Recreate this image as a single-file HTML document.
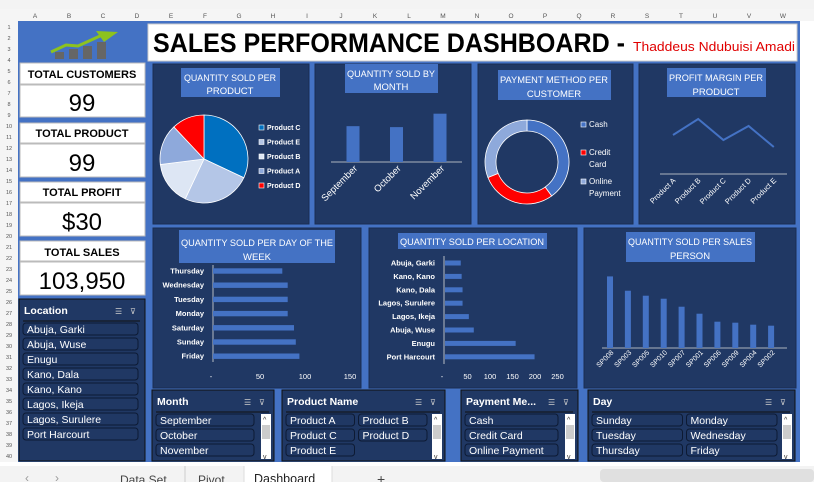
<!DOCTYPE html>
<html><head><meta charset="utf-8"><style>
html,body{margin:0;padding:0;background:#fff;width:814px;height:482px;overflow:hidden}
svg{display:block;font-family:"Liberation Sans",Arial,sans-serif}
</style></head><body>
<svg id="dash" width="814" height="482" viewBox="0 0 814 482" xmlns="http://www.w3.org/2000/svg">
<rect x="0" y="0" width="814" height="9" fill="#f3f3f3"/>
<rect x="0" y="9" width="814" height="12" fill="#f5f5f5"/>
<g id="colHeads" font-size="6.5" fill="#555" text-anchor="middle"></g>
<rect x="0" y="21" width="18" height="441" fill="#f5f5f5"/>
<g id="rowHeads" font-size="5.5" fill="#555" text-anchor="middle"></g>
<rect x="18" y="21" width="782" height="441" fill="#4472C4"/>
<rect x="0" y="462" width="814" height="20" fill="#f3f3f3"/>
<text x="25" y="482" font-size="12" fill="#999">‹</text>
<text x="55" y="482" font-size="12" fill="#999">›</text>
<text x="120" y="484" font-size="12" fill="#444">Data Set</text>
<line x1="185" y1="466" x2="185" y2="482" stroke="#ccc"/>
<text x="198" y="484" font-size="12" fill="#444">Pivot</text>
<rect x="244" y="465" width="88" height="18" fill="#fff" stroke="#ddd"/>
<text x="254" y="483" font-size="12.5" fill="#222">Dashboard</text>
<text x="377" y="484" font-size="14" fill="#444">+</text>
<rect x="600" y="469" width="214" height="13" rx="4" fill="#e0e0e0"/>

<g>
<rect x="55" y="52" width="9" height="7" fill="#666"/><rect x="69" y="49" width="9" height="10" fill="#666"/>
<rect x="83" y="46" width="9" height="13" fill="#666"/><rect x="97" y="42" width="9" height="17" fill="#666"/>
<polyline points="51,52 66,45 78,46 100,36" fill="none" stroke="#8DC21F" stroke-width="3"/>
<polygon points="96,31 118,32 104,42" fill="#8DC21F"/>
</g>
<rect x="148" y="24" width="649" height="37" fill="#fff" stroke="#ccc"/>
<text x="153" y="52" font-size="27" font-weight="bold" fill="#000" textLength="472" lengthAdjust="spacingAndGlyphs">SALES PERFORMANCE DASHBOARD -</text>
<text x="633" y="51" font-size="13" fill="#e00000" textLength="162" lengthAdjust="spacingAndGlyphs">Thaddeus Ndubuisi Amadi</text>

<g font-size="11" font-weight="bold" text-anchor="middle">
<rect x="20" y="63" width="125" height="21" fill="#fff" stroke="#bbb"/>
<text x="82" y="78">TOTAL CUSTOMERS</text>
<rect x="20" y="85" width="125" height="32" fill="#fff" stroke="#bbb"/>
<text x="82" y="111" font-size="24" font-weight="normal">99</text>
<rect x="20" y="123" width="125" height="20" fill="#fff" stroke="#bbb"/>
<text x="82" y="137">TOTAL PRODUCT</text>
<rect x="20" y="144" width="125" height="33" fill="#fff" stroke="#bbb"/>
<text x="82" y="171" font-size="24" font-weight="normal">99</text>
<rect x="20" y="182" width="125" height="20" fill="#fff" stroke="#bbb"/>
<text x="82" y="196">TOTAL PROFIT</text>
<rect x="20" y="203" width="125" height="33" fill="#fff" stroke="#bbb"/>
<text x="82" y="230" font-size="24" font-weight="normal">$30</text>
<rect x="20" y="241" width="125" height="20" fill="#fff" stroke="#bbb"/>
<text x="82" y="256">TOTAL SALES</text>
<rect x="20" y="262" width="125" height="33" fill="#fff" stroke="#bbb"/>
<text x="82" y="289" font-size="24" font-weight="normal">103,950</text>
</g>

<g fill="#203864" stroke="#1a2d52">
<rect x="153" y="64" width="156" height="160"/>
<rect x="315" y="64" width="156" height="160"/>
<rect x="478" y="64" width="155" height="160"/>
<rect x="639" y="64" width="156" height="160"/>
<rect x="153" y="228" width="208" height="160"/>
<rect x="369" y="228" width="208" height="160"/>
<rect x="584" y="228" width="212" height="160"/>
</g>
<g fill="#4472C4">
<rect x="181" y="68" width="99" height="29"/>
<rect x="345" y="64" width="93" height="29"/>
<rect x="498" y="70" width="113" height="30"/>
<rect x="667" y="68" width="99" height="29"/>
<rect x="179" y="230" width="156" height="33"/>
<rect x="398" y="233" width="149" height="16"/>
<rect x="626" y="232" width="129" height="30"/>
</g>
<g fill="#fff" font-size="9.5" text-anchor="middle">
<text x="230" y="81" textLength="92" lengthAdjust="spacingAndGlyphs">QUANTITY SOLD PER</text>
<text x="230" y="94">PRODUCT</text>
<text x="391" y="77" textLength="88" lengthAdjust="spacingAndGlyphs">QUANTITY SOLD BY</text>
<text x="391" y="90">MONTH</text>
<text x="554" y="83" textLength="108" lengthAdjust="spacingAndGlyphs">PAYMENT METHOD PER</text>
<text x="554" y="97">CUSTOMER</text>
<text x="716" y="81" textLength="94" lengthAdjust="spacingAndGlyphs">PROFIT MARGIN PER</text>
<text x="716" y="95">PRODUCT</text>
<text x="257" y="246" textLength="152" lengthAdjust="spacingAndGlyphs">QUANTITY SOLD PER DAY OF THE</text>
<text x="257" y="260">WEEK</text>
<text x="472" y="245" textLength="144" lengthAdjust="spacingAndGlyphs">QUANTITY SOLD PER LOCATION</text>
<text x="690" y="245" textLength="124" lengthAdjust="spacingAndGlyphs">QUANTITY SOLD PER SALES</text>
<text x="690" y="259">PERSON</text>
</g>
<g id="charts"></g>
<g id="slicers"></g>
</svg>
<script>
const pieCats = ["Product C","Product E","Product B","Product A","Product D"];
const pieVals = [32,25,16,15,12];
const pieColors = ["#0070C0","#B4C6E7","#DDE6F4","#8EA9DB","#FF0000"];
const months = ["September","October","November"];
const monthVals = [112,109,151];
const payCats = ["Cash","Credit Card","Online Payment"];
const payVals = [40,29,31];
const payColors = ["#4472C4","#FF0000","#8EA9DB"];
const profitCats = ["Product A","Product B","Product C","Product D","Product E"];
const profitVals = [39,55,34,48,27];
const days = ["Thursday","Wednesday","Tuesday","Monday","Saturday","Sunday","Friday"];
const dayVals = [77,83,83,83,90,92,96];
const dayTicks = ["-","50","100","150"];
const locs = ["Abuja, Garki","Kano, Kano","Kano, Dala","Lagos, Surulere","Lagos, Ikeja","Abuja, Wuse","Enugu","Port Harcourt"];
const locVals = [35,37,39,39,53,64,157,199];
const locTicks = ["-","50","100","150","200","250"];
const spCats = ["SP008","SP003","SP005","SP010","SP007","SP001","SP006","SP009","SP004","SP002"];
const spVals = [215,172,157,148,124,103,79,76,70,67];

const NS="http://www.w3.org/2000/svg";
function mk(tag,attrs,parent){const e=document.createElementNS(NS,tag);for(const k in attrs)e.setAttribute(k,attrs[k]);(parent||document.getElementById('charts')).appendChild(e);return e;}

const letters="ABCDEFGHIJKLMNOPQRSTUVW";
for(let i=0;i<letters.length;i++){const t=mk('text',{x:35+i*34,y:18},document.getElementById('colHeads'));t.textContent=letters[i];}
for(let r=1;r<=40;r++){const t=mk('text',{x:9,y:21+r*11-3},document.getElementById('rowHeads'));t.textContent=r;}

(function(){
 const cx=204,cy=159,r=44,tot=pieVals.reduce((a,b)=>a+b,0);let a=0;
 pieVals.forEach((v,i)=>{const a2=a+v/tot*2*Math.PI;
  const x1=cx+r*Math.sin(a),y1=cy-r*Math.cos(a),x2=cx+r*Math.sin(a2),y2=cy-r*Math.cos(a2);
  const p=mk('path',{d:`M${cx},${cy}L${x1},${y1}A${r},${r} 0 ${a2-a>Math.PI?1:0} 1 ${x2},${y2}Z`,fill:pieColors[i],stroke:"#fff","stroke-width":0.8});
  
  
  a=a2;
  const ly=130+i*14.5;
  const s=mk('rect',{x:259,y:ly-5,width:5,height:5,fill:pieColors[i],stroke:"#fff","stroke-width":0.6});
  
  
  const t=mk('text',{x:267,y:ly,"font-size":7,"font-weight":"bold",fill:"#fff"});t.textContent=pieCats[i];
  
  
 });
})();

(function(){
 const base=162,sc=0.32,x0=353,step=43.5;
 mk('line',{x1:331,y1:base,x2:462,y2:base,stroke:"#ddd","stroke-width":0.8});
 months.forEach((m,i)=>{const x=x0+i*step,h=monthVals[i]*sc;
  const b=mk('rect',{x:x-6.5,y:base-h,width:13,height:h,fill:"#4472C4"});
  
  
  const t=mk('text',{x:x+5,y:169,"font-size":9.5,fill:"#fff","text-anchor":"end",transform:`rotate(-45 ${x+5} 169)`});t.textContent=m;
  
  
 });
})();

(function(){
 const cx=527,cy=162,R=42,r=31,tot=payVals.reduce((a,b)=>a+b,0);let a=0;
 payVals.forEach((v,i)=>{const a2=a+v/tot*2*Math.PI,lg=a2-a>Math.PI?1:0;
  const P=(rad,t)=>[cx+rad*Math.sin(t),cy-rad*Math.cos(t)];
  const [x1,y1]=P(R,a),[x2,y2]=P(R,a2),[x3,y3]=P(r,a2),[x4,y4]=P(r,a);
  const p=mk('path',{d:`M${x1},${y1}A${R},${R} 0 ${lg} 1 ${x2},${y2}L${x3},${y3}A${r},${r} 0 ${lg} 0 ${x4},${y4}Z`,fill:payColors[i],stroke:"#fff","stroke-width":0.8});
  
  
  a=a2;
 });
 const ly=[127,155,184];
 payCats.forEach((c,i)=>{const s=mk('rect',{x:581,y:ly[i]-5,width:5,height:5,fill:payColors[i],stroke:"#fff","stroke-width":0.6});
  
  
  const parts=c.split(' ');
  parts.forEach((w,j)=>{const t=mk('text',{x:589,y:ly[i]+j*12,"font-size":8,fill:"#fff"});t.textContent=w;
   
   });
 });
})();

(function(){
 const base=174,x0=673,step=25.2;
 mk('line',{x1:660,y1:base,x2:787,y2:base,stroke:"#ddd","stroke-width":0.8});
 const pts=profitVals.map((v,i)=>`${x0+i*step},${base-v}`).join(' ');
 const l=mk('polyline',{points:pts,fill:"none",stroke:"#4472C4","stroke-width":2});
 
 
 profitCats.forEach((c,i)=>{const x=x0+i*step+3;
  const t=mk('text',{x:x,y:181,"font-size":7.5,fill:"#fff","text-anchor":"end",transform:`rotate(-45 ${x} 181)`});t.textContent=c;
  
  });
})();

(function(){
 const x0=213,sc=0.9,y0=271,step=14.2;
 mk('line',{x1:x0,y1:265,x2:x0,y2:362,stroke:"#ddd","stroke-width":0.8});
 days.forEach((d,i)=>{const y=y0+i*step;
  const b=mk('rect',{x:x0,y:y-2.7,width:dayVals[i]*sc,height:5.4,fill:"#4472C4"});
  
  
  const t=mk('text',{x:204,y:y+2.5,"font-size":7.5,"font-weight":"bold",fill:"#fff","text-anchor":"end"});t.textContent=d;
  
  });
 dayTicks.forEach((tk,i)=>{const t=mk('text',{x:x0+i*50*sc-(i==0?2:-2),y:379,"font-size":7.5,fill:"#fff","text-anchor":"middle"});t.textContent=tk;
  
  });
})();

(function(){
 const x0=444,sc=0.45,y0=263,step=13.4;
 mk('line',{x1:x0,y1:256,x2:x0,y2:364,stroke:"#ddd","stroke-width":0.8});
 locs.forEach((d,i)=>{const y=y0+i*step;
  const b=mk('rect',{x:x0+1,y:y-2.5,width:locVals[i]*sc,height:5,fill:"#4472C4"});
  
  
  const t=mk('text',{x:435,y:y+2.5,"font-size":7.5,"font-weight":"bold",fill:"#fff","text-anchor":"end"});t.textContent=d;
  
  });
 locTicks.forEach((tk,i)=>{const t=mk('text',{x:x0+i*50*sc-(i==0?2:-1),y:379,"font-size":7.5,fill:"#fff","text-anchor":"middle"});t.textContent=tk;
  
  });
})();

(function(){
 const base=348,sc=0.333,x0=610,step=17.9;
 mk('line',{x1:602,y1:base,x2:787,y2:base,stroke:"#ddd","stroke-width":0.8});
 spCats.forEach((c,i)=>{const x=x0+i*step,h=spVals[i]*sc;
  const b=mk('rect',{x:x-3,y:base-h,width:6,height:h,fill:"#4472C4"});
  
  
  const t=mk('text',{x:x+4,y:353,"font-size":7,fill:"#fff","text-anchor":"end",transform:`rotate(-45 ${x+4} 353)`});t.textContent=c;
  
  });
})();

(function(){
 const S=document.getElementById('slicers');
 function slicer(name,x,y,w,h,title,cols,items,scroll){
  const g=mk('g',{},S);
  
  
  mk('rect',{x:x,y:y,width:w,height:h,fill:"#203864",stroke:"#111","stroke-width":1},g);
  const t=mk('text',{x:x+5,y:y+15,"font-size":10.5,"font-weight":"bold",fill:"#fff"},g);t.textContent=title;
  mk('text',{x:x+w-30,y:y+15,"font-size":8,fill:"#ccc"},g).textContent="☰";
  mk('text',{x:x+w-15,y:y+15,"font-size":8,fill:"#ccc"},g).textContent="⊽";
  mk('line',{x1:x+4,y1:y+22,x2:x+w-5,y2:y+22,stroke:"#111","stroke-width":1},g);
  const iw=scroll?(w-22)/cols:(w-9);
  items.forEach((it,k)=>{const c=k%cols,r=Math.floor(k/cols);
   const ix=x+4+c*(iw+2),iy=y+24+r*15;
   if(iy+8>y+h)return;
   const b=mk('rect',{x:ix,y:iy,width:iw-2,height:12,rx:3,fill:"#203864",stroke:"#0d1a33","stroke-width":1},g);
   
   
   const tt=mk('text',{x:ix+4,y:iy+10,"font-size":10.5,fill:"#fff"},g);tt.textContent=it;
  });
  if(scroll){mk('rect',{x:x+w-13,y:y+24,width:10,height:h-26,fill:"#fff"},g);
   mk('rect',{x:x+w-12,y:y+35,width:8,height:14,fill:"#ccc"},g);
   mk('text',{x:x+w-11,y:y+32,"font-size":7,fill:"#333"},g).textContent="^";
   mk('text',{x:x+w-11,y:y+h-2,"font-size":7,fill:"#333"},g).textContent="v";}
  return g;
 }
 slicer('location-slicer',19,299,126,162,'Location',1,["Abuja, Garki","Abuja, Wuse","Enugu","Kano, Dala","Kano, Kano","Lagos, Ikeja","Lagos, Surulere","Port Harcourt"],false);
 slicer('month-slicer',152,390,122,71,'Month',1,["September","October","November"],true);
 slicer('product-name-slicer',282,390,163,71,'Product Name',2,["Product A","Product B","Product C","Product D","Product E"],true);
 slicer('payment-method-slicer',461,390,117,71,'Payment Me...',1,["Cash","Credit Card","Online Payment"],true);
 slicer('day-slicer',588,390,207,71,'Day',2,["Sunday","Monday","Tuesday","Wednesday","Thursday","Friday"],true);
 const cov=mk('rect',{x:0,y:462,width:814,height:4,fill:"#fff"},S);
 
 
})();
</script>
</body></html>
